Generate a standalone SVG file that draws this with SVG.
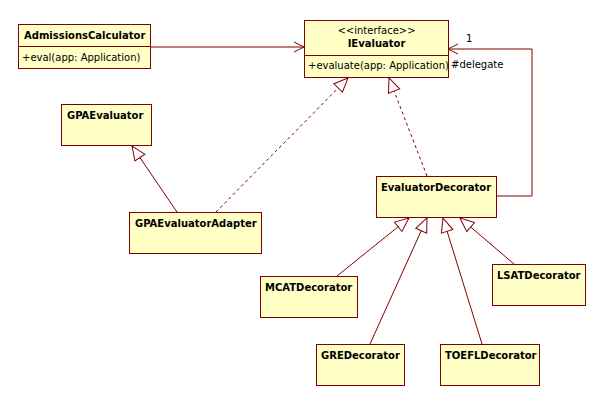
<svg xmlns="http://www.w3.org/2000/svg" width="606" height="406" viewBox="0 0 606 406">
<style>
.b{fill:#ffffc6;stroke:#800000;stroke-width:1}
.n{font-family:"DejaVu Sans",sans-serif;font-size:10px;font-weight:bold;fill:#000}
.t{font-family:"DejaVu Sans",sans-serif;font-size:10px;fill:#000}
.l{stroke:#800000;stroke-width:1;fill:none}
.d{stroke-dasharray:3,3}
</style>
<defs>
<marker id="tri" markerUnits="userSpaceOnUse" markerWidth="16" markerHeight="14" refX="15" refY="7" orient="auto"><path d="M1,1 L15,7 L1,13 Z" fill="#fff" stroke="#800000"/></marker>
<marker id="open" markerUnits="userSpaceOnUse" markerWidth="12" markerHeight="12" refX="11" refY="6" orient="auto"><path d="M1,1 L11,6 L1,11" fill="none" stroke="#800000"/></marker>
</defs>
<rect width="606" height="406" fill="#fff"/>
<g id="connectors">
<line class="l" x1="151" y1="47" x2="304" y2="47" marker-end="url(#open)"/>
<polyline class="l" points="496,196 532,196 532,49 448,49" marker-end="url(#open)"/>
<line class="l d" x1="216" y1="212" x2="348" y2="78" marker-end="url(#tri)"/>
<line class="l d" x1="427" y1="176" x2="389" y2="78" marker-end="url(#tri)"/>
<line class="l" x1="177" y1="212" x2="132" y2="146" marker-end="url(#tri)"/>
<line class="l" x1="337" y1="276" x2="409" y2="218" marker-end="url(#tri)"/>
<line class="l" x1="370" y1="344" x2="427" y2="218" marker-end="url(#tri)"/>
<line class="l" x1="482" y1="344" x2="443" y2="218" marker-end="url(#tri)"/>
<line class="l" x1="514" y1="264" x2="460" y2="218" marker-end="url(#tri)"/>
<text class="t" x="466" y="42">1</text>
<text class="t" x="451" y="68">#delegate</text>
</g>
<g id="AdmissionsCalculator"><rect class="b" x="18.5" y="24.5" width="132" height="44"/><line class="l" x1="18.5" y1="46.5" x2="150.5" y2="46.5"/><text class="n" x="24" y="39">AdmissionsCalculator</text><text class="t" x="22" y="61">+eval(app: Application)</text></g>
<g id="IEvaluator"><rect class="b" x="304.5" y="20.5" width="144" height="57"/><line class="l" x1="304.5" y1="55.5" x2="448.5" y2="55.5"/><text class="t" x="376.5" y="34" text-anchor="middle">&lt;&lt;interface&gt;&gt;</text><text class="n" x="376.5" y="47" text-anchor="middle">IEvaluator</text><text class="t" x="308" y="69">+evaluate(app: Application)</text></g>
<g id="GPAEvaluator"><rect class="b" x="61.5" y="104.5" width="90" height="41"/><text class="n" x="67" y="119">GPAEvaluator</text></g>
<g id="GPAEvaluatorAdapter"><rect class="b" x="129.5" y="212.5" width="132" height="41"/><text class="n" x="135" y="227">GPAEvaluatorAdapter</text></g>
<g id="EvaluatorDecorator"><rect class="b" x="376.5" y="176.5" width="120" height="41"/><text class="n" x="381" y="191">EvaluatorDecorator</text></g>
<g id="MCATDecorator"><rect class="b" x="260.5" y="276.5" width="97" height="41"/><text class="n" x="265" y="291">MCATDecorator</text></g>
<g id="LSATDecorator"><rect class="b" x="492.5" y="264.5" width="93" height="41"/><text class="n" x="497" y="279">LSATDecorator</text></g>
<g id="GREDecorator"><rect class="b" x="316.5" y="344.5" width="88" height="41"/><text class="n" x="321" y="359">GREDecorator</text></g>
<g id="TOEFLDecorator"><rect class="b" x="440.5" y="344.5" width="99" height="41"/><text class="n" x="445" y="359">TOEFLDecorator</text></g>
</svg>
